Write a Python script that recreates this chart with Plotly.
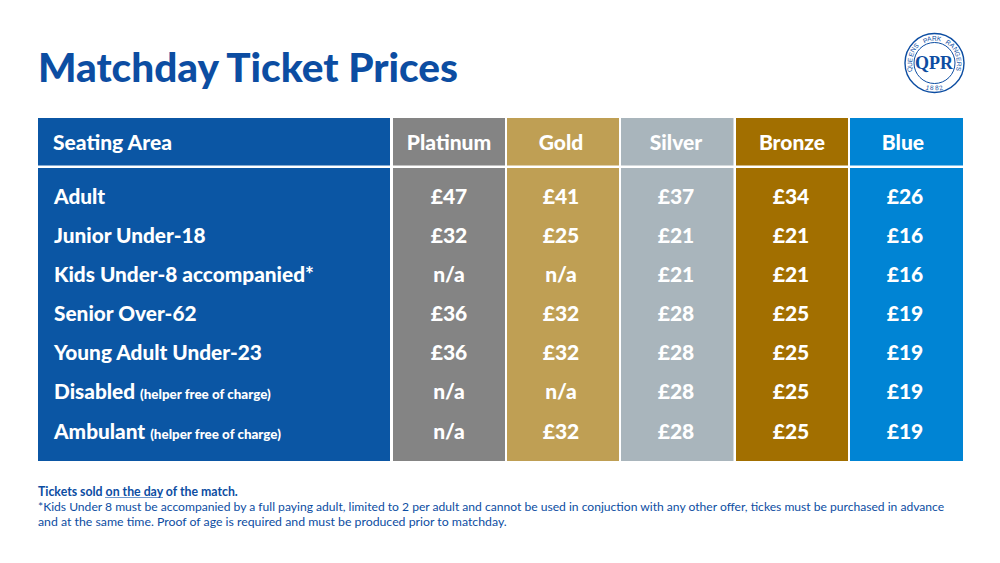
import math
import plotly.graph_objects as go

TITLE = "Matchday Ticket Prices"
HEADER_LABEL = "Seating Area"
tiers = ["Platinum", "Gold", "Silver", "Bronze", "Blue"]
tier_colors = ["#848484", "#BF9F54", "#A9B5BC", "#A26F00", "#0084D4"]
areas = [
    "Adult", "Junior Under-18", "Kids Under-8 accompanied*", "Senior Over-62",
    "Young Adult Under-23",
    "Disabled <span style='font-size:13.4px'>(helper free of charge)</span>",
    "Ambulant <span style='font-size:13.4px'>(helper free of charge)</span>",
]
platinum = ["£47", "£32", "n/a", "£36", "£36", "n/a", "n/a"]
gold = ["£41", "£25", "n/a", "£32", "£32", "n/a", "£32"]
silver = ["£37", "£21", "£21", "£28", "£28", "£28", "£28"]
bronze = ["£34", "£21", "£21", "£25", "£25", "£25", "£25"]
blue = ["£26", "£16", "£16", "£19", "£19", "£19", "£19"]
prices = [platinum, gold, silver, bronze, blue]
FOOT_1 = "<b>Tickets sold on the day of the match.</b>"
FOOT_2 = ("*Kids Under 8 must be accompanied by a full paying adult, limited to 2 per adult and cannot be "
          "used in conjuction with any other offer, tickes must be purchased in advance")
FOOT_3 = "and at the same time. Proof of age is required and must be produced prior to matchday."

NAVY = "#0B56A4"
INK = "#0C4DA2"
FONT = "Lato"
col_edges = [(393, 505), (507, 619), (621, 733.5), (736, 848), (850, 963)]
col_text_x = [449, 561, 676, 791, 905]
head_text_x = [449, 561, 676, 792, 903]
row_y = [199, 238, 277, 316, 355, 394, 434]

fig = go.Figure()
shapes = []
def rect(x0, y0, x1, y1, c):
    shapes.append(dict(type="rect", xref="x", yref="y", x0=x0, x1=x1, y0=y0, y1=y1,
                       fillcolor=c, line_width=0, layer="below"))
rect(38, 118, 390, 165.5, NAVY)
rect(38, 168, 390, 461, NAVY)
for (a, b), c in zip(col_edges, tier_colors):
    rect(a, 118, b, 165.5, c)
    rect(a, 168, b, 461, c)

wfont = dict(family=FONT, color="white", size=21, weight=900)
rfont = dict(family=FONT, color="white", size=20.8, weight=900)
fig.add_trace(go.Scatter(x=[53], y=[145], mode="text", text=[HEADER_LABEL],
                         textposition="middle right", textfont=wfont, hoverinfo="skip"))
fig.add_trace(go.Scatter(x=head_text_x, y=[145] * 5, mode="text", text=tiers,
                         textposition="middle center", textfont=wfont, hoverinfo="skip"))
fig.add_trace(go.Scatter(x=[54] * 7, y=row_y, mode="text", text=areas,
                         textposition="middle right", textfont=rfont, hoverinfo="skip"))
for x, col in zip(col_text_x, prices):
    fig.add_trace(go.Scatter(x=[x] * 7, y=row_y, mode="text", text=col,
                             textposition="middle center", textfont=wfont, hoverinfo="skip"))

ann = []
def note(x, y, t, size, color=INK, family=FONT, anchor="left", angle=0, weight=None):
    f = dict(family=family, size=size, color=color)
    if weight:
        f["weight"] = weight
    ann.append(dict(x=x, y=y, xref="x", yref="y", text=t, showarrow=False, xanchor=anchor,
                    yanchor="middle", textangle=angle, borderpad=0, font=f))
note(36.5, 66, TITLE, 40.5, weight=900)
note(37, 491.5, FOOT_1, 12.3)
note(37, 506.5, FOOT_2, 12.1)
note(37, 521, FOOT_3, 12.3)
shapes.append(dict(type="line", xref="x", yref="y", x0=105, x1=163, y0=497.5, y1=497.5,
                   line=dict(color="#6F97CC", width=1)))

# crest
cx, cy = 934.5, 63
for r, w in [(29.5, 1.4), (20.5, 1)]:
    shapes.append(dict(type="circle", xref="x", yref="y", x0=cx - r, x1=cx + r, y0=cy - r, y1=cy + r,
                       line=dict(color=INK, width=w), fillcolor="rgba(0,0,0,0)"))
crest = "QUEENS PARK RANGERS"
for i, ch in enumerate(crest):
    deg = -105 + i * 210 / (len(crest) - 1)
    a = math.radians(deg)
    note(cx + 25 * math.sin(a), cy - 25 * math.cos(a), ch, 6.5, family="Liberation Sans",
         anchor="center", angle=deg)
for i, ch in enumerate("1882"):
    deg = -15 + i * 10
    a = math.radians(deg)
    note(cx + 25 * math.sin(a), cy + 25 * math.cos(a), ch, 6.5, family="Liberation Sans",
         anchor="center", angle=-deg)
note(cx, cy, "<b>QPR</b>", 18, family="Liberation Serif", anchor="center")

fig.update_layout(
    width=1000, height=563, margin=dict(l=0, r=0, t=0, b=0), autosize=False,
    paper_bgcolor="white", plot_bgcolor="white", showlegend=False,
    xaxis=dict(range=[0, 1000], visible=False, fixedrange=True),
    yaxis=dict(range=[563, 0], visible=False, fixedrange=True),
    shapes=shapes, annotations=ann,
)
fig.write_html("out.html", config={"displayModeBar": False, "responsive": False},
               post_script="document.body.style.margin='0';document.documentElement.style.overflow='hidden';")
